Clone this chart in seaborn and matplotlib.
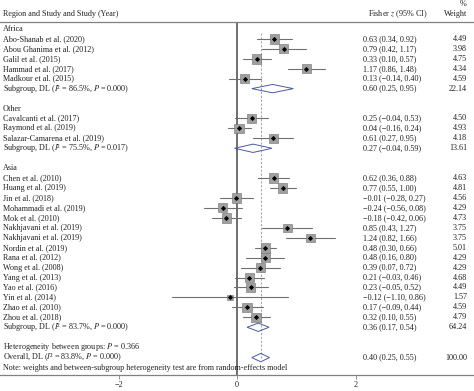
import matplotlib
matplotlib.use("Agg")
import matplotlib.pyplot as plt
import matplotlib.transforms as mtransforms
from matplotlib.patches import Polygon
import numpy as np
import pandas as pd
import seaborn as sns

# ---------------- data ----------------
groups = ["Africa", "Other", "Asia"]

africa_studies = ["Abo-Shanab et al. (2020)", "Abou Ghanima et al. (2012)", "Galil et al. (2015)",
                  "Hammad et al. (2017)", "Madkour et al. (2015)"]
africa_es = [0.63, 0.79, 0.33, 1.17, 0.13]
africa_lo = [0.34, 0.42, 0.10, 0.86, -0.14]
africa_hi = [0.92, 1.17, 0.57, 1.48, 0.40]
africa_w = [4.49, 3.98, 4.75, 4.34, 4.59]

other_studies = ["Cavalcanti et al. (2017)", "Raymond et al. (2019)", "Salazar-Camarena et al. (2019)"]
other_es = [0.25, 0.04, 0.61]
other_lo = [-0.04, -0.16, 0.27]
other_hi = [0.53, 0.24, 0.95]
other_w = [4.50, 4.93, 4.18]

asia_studies = ["Chen et al. (2010)", "Huang et al. (2019)", "Jin et al. (2018)", "Mohammadi et al. (2019)",
                "Mok et al. (2010)", "Nakhjavani et al. (2019)", "Nakhjavani et al. (2019)",
                "Nordin et al. (2019)", "Rana et al. (2012)", "Wong et al. (2008)", "Yang et al. (2013)",
                "Yao et al. (2016)", "Yin et al. (2014)", "Zhao et al. (2010)", "Zhou et al. (2018)"]
asia_es = [0.62, 0.77, -0.01, -0.24, -0.18, 0.85, 1.24, 0.48, 0.48, 0.39, 0.21, 0.23, -0.12, 0.17, 0.32]
asia_lo = [0.36, 0.55, -0.28, -0.56, -0.42, 0.43, 0.82, 0.30, 0.16, 0.07, -0.03, -0.05, -1.10, -0.09, 0.10]
asia_hi = [0.88, 1.00, 0.27, 0.08, 0.06, 1.27, 1.66, 0.66, 0.80, 0.72, 0.46, 0.52, 0.86, 0.44, 0.55]
asia_w = [4.63, 4.81, 4.56, 4.29, 4.73, 3.75, 3.75, 5.01, 4.29, 4.29, 4.68, 4.49, 1.57, 4.59, 4.79]

sub_es = [0.60, 0.27, 0.36]
sub_lo = [0.25, -0.04, 0.17]
sub_hi = [0.95, 0.59, 0.54]
sub_w = [22.14, 13.61, 64.24]
sub_i2 = ["86.5%", "75.5%", "83.7%"]
sub_p = ["0.000", "0.017", "0.000"]

overall_es, overall_lo, overall_hi, overall_w = 0.40, 0.25, 0.55, 100.00
overall_i2, overall_p = "83.8%", "0.000"
between_p = "0.366"
note = "Note: weights and between-subgroup heterogeneity test are from random-effects model"
x_ticks = [-2, 0, 2]

# ---------------- build rows ----------------
MINUS = "\u2212"
def fmt(v):
    s = f"{v:.2f}"
    return s.replace("-", MINUS)

study_rows = []
sub_rows = []
label_rows = []   # (y, text, ci, weight)
y = 0
for k, (g, st, es, lo, hi, w) in enumerate(zip(groups,
                                   [africa_studies, other_studies, asia_studies],
                                   [africa_es, other_es, asia_es],
                                   [africa_lo, other_lo, asia_lo],
                                   [africa_hi, other_hi, asia_hi],
                                   [africa_w, other_w, asia_w])):
    label_rows.append((y, g, None, None))
    y += 1
    for n, e, l, h, ww in zip(st, es, lo, hi, w):
        study_rows.append(dict(y=y, name=n, es=e, lo=l, hi=h, w=ww))
        label_rows.append((y, n, f"{fmt(e)} ({fmt(l)}, {fmt(h)})", f"{ww:.2f}"))
        y += 1
    sub_rows.append(dict(y=y, es=sub_es[k], lo=sub_lo[k], hi=sub_hi[k]))
    label_rows.append((y, rf"Subgroup, DL ($I$² = {sub_i2[k]}, $P$ = {sub_p[k]})",
                       f"{fmt(sub_es[k])} ({fmt(sub_lo[k])}, {fmt(sub_hi[k])})", f"{sub_w[k]:.2f}"))
    y += 2
y_het = y
label_rows.append((y_het, rf"Heterogeneity between groups: $P$ = {between_p}", None, None))
y_overall = y_het + 1.05
label_rows.append((y_overall, rf"Overall, DL ($I$² = {overall_i2}, $P$ = {overall_p})",
                   f"{fmt(overall_es)} ({fmt(overall_lo)}, {fmt(overall_hi)})", f"{overall_w:.2f}"))
y_note = y_overall + 1
label_rows.append((y_note, note, None, None))

df = pd.DataFrame(study_rows)

# ---------------- plot ----------------
sns.set_theme(style="white")
plt.rcParams["font.family"] = ["Liberation Serif", "DejaVu Serif"]
plt.rcParams["mathtext.fontset"] = "stix"

fig = plt.figure(figsize=(4.74, 3.91), dpi=100)
ax = fig.add_axes([0, 1 - 375 / 391, 1, (375 - 22) / 391])

fs = 5.85
tc = "#222222"
ax.set_xlim(-4.0, 4.0)
ax.set_ylim(y_note + 0.75, -0.7)

# zero line
ax.axvline(0, color="#6e6e6e", lw=1.4, zorder=1)
# overall dashed line
ax.plot([overall_es, overall_es], [0.4, y_overall], color="#a8a8a8", lw=0.8,
        ls=(0, (2, 1.5)), zorder=1)

# CI lines
for r in study_rows:
    ax.plot([r["lo"], r["hi"]], [r["y"], r["y"]], color="#707070", lw=0.8, zorder=2)

# squares sized by weight
sns.scatterplot(data=df, x="es", y="y", size="w", sizes=(0, 5.5 * 10), size_norm=(0, 5.5),
                marker="s", color="#a0a0a0", edgecolor="#707070", linewidth=0.4,
                legend=False, ax=ax, zorder=3)
ax.scatter(df["es"], df["y"], marker="D", s=7, color="black", linewidths=0, zorder=4)

# diamonds
def diamond(es, lo, hi, yy, color):
    h = 0.42
    poly = Polygon([[lo, yy], [es, yy - h], [hi, yy], [es, yy + h]], closed=True,
                   facecolor="none", edgecolor=color, lw=0.7, zorder=4)
    ax.add_patch(poly)

for r in sub_rows:
    diamond(r["es"], r["lo"], r["hi"], r["y"], "#4b5aa6")
diamond(overall_es, overall_lo, overall_hi, y_overall, "#4b5aa6")

# text columns
trans = mtransforms.blended_transform_factory(fig.transFigure, ax.transData)
for yy, name, ci, w in label_rows:
    ax.text(3 / 474, yy, name, transform=trans, ha="left", va="center", fontsize=fs,
            color=tc, zorder=5)
    if ci is not None:
        ax.text(363 / 474, yy, ci, transform=trans, ha="left", va="center", fontsize=fs, color=tc)
    if w is not None:
        ax.text(467 / 474, yy, w, transform=trans, ha="right", va="center", fontsize=fs, color=tc)

# headers
fig.text(3 / 474, 1 - 14 / 391, "Region and Study and Study (Year)", ha="left", va="center",
         fontsize=fs, color=tc)
fig.text(398 / 474, 1 - 14 / 391, r"Fisher $z$ (95% CI)", ha="center", va="center",
         fontsize=fs, color=tc)
fig.text(467 / 474, 1 - 4 / 391, "%", ha="right", va="center", fontsize=fs, color=tc)
fig.text(467 / 474, 1 - 14 / 391, "Weight", ha="right", va="center", fontsize=fs, color=tc)

# axes styling
ax.set_xticks(x_ticks)
ax.set_xticklabels([str(t).replace("-", MINUS) for t in x_ticks])
ax.set_yticks([])
ax.set_xlabel("")
ax.set_ylabel("")
for s in ["left", "right"]:
    ax.spines[s].set_visible(False)
for s in ["top", "bottom"]:
    ax.spines[s].set_color("#808080")
    ax.spines[s].set_linewidth(0.9)
ax.tick_params(axis="x", direction="out", length=3, width=0.6, color="#808080",
               labelsize=fs, labelcolor=tc, pad=1.5, bottom=True)

fig.savefig("out.png", dpi=100, facecolor="white")
